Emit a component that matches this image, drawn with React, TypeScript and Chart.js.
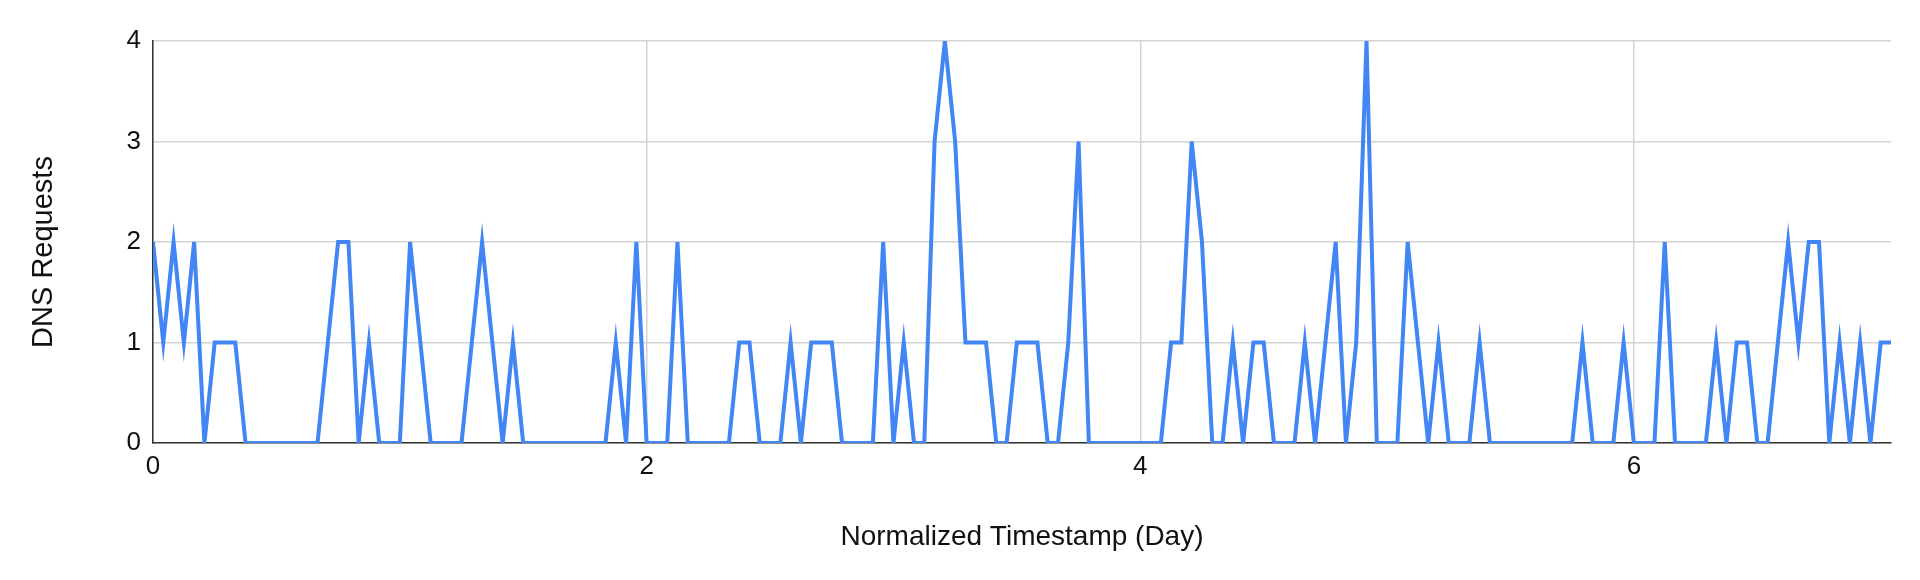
import React, { useEffect, useRef } from "react";
import { Chart, registerables } from "chart.js";

Chart.register(...registerables);

// Hourly DNS request counts (one value per hour, starting at day 0)
const dnsRequests: number[] = [
  2, 1, 2, 1, 2, 0, 1, 1, 1, 0,
  0, 0, 0, 0, 0, 0, 0, 1, 2, 2,
  0, 1, 0, 0, 0, 2, 1, 0, 0, 0,
  0, 1, 2, 1, 0, 1, 0, 0, 0, 0,
  0, 0, 0, 0, 0, 1, 0, 2, 0, 0,
  0, 2, 0, 0, 0, 0, 0, 1, 1, 0,
  0, 0, 1, 0, 1, 1, 1, 0, 0, 0,
  0, 2, 0, 1, 0, 0, 3, 4, 3, 1,
  1, 1, 0, 0, 1, 1, 1, 0, 0, 1,
  3, 0, 0, 0, 0, 0, 0, 0, 0, 1,
  1, 3, 2, 0, 0, 1, 0, 1, 1, 0,
  0, 0, 1, 0, 1, 2, 0, 1, 4, 0,
  0, 0, 2, 1, 0, 1, 0, 0, 0, 1,
  0, 0, 0, 0, 0, 0, 0, 0, 0, 1,
  0, 0, 0, 1, 0, 0, 0, 2, 0, 0,
  0, 0, 1, 0, 1, 1, 0, 0, 1, 2,
  1, 2, 2, 0, 1, 0, 1, 0, 1, 1,
];

const HOURS_PER_DAY = 24;
const timestamps: number[] = dnsRequests.map((_, i) => i / HOURS_PER_DAY);

const xTickValues: number[] = [0, 2, 4, 6];
const yTickValues: number[] = [0, 1, 2, 3, 4];

const xTitle = "Normalized Timestamp (Day)";
const yTitle = "DNS Requests";

const FONT = "'Liberation Sans', Arial, Helvetica, sans-serif";

const yTitlePlugin = {
  id: "yTitle",
  afterDraw(chart: any) {
    const { ctx } = chart;
    ctx.save();
    ctx.translate(44, 252);
    ctx.rotate(-Math.PI / 2);
    ctx.font = `29px ${FONT}`;
    ctx.fillStyle = "#111";
    ctx.textAlign = "center";
    ctx.textBaseline = "middle";
    ctx.fillText(yTitle, 0, 0);
    ctx.restore();
  },
};

export default function App() {
  const canvasRef = useRef<HTMLCanvasElement | null>(null);

  useEffect(() => {
    const canvas = canvasRef.current;
    if (!canvas) return;
    const points = dnsRequests.map((v, i) => ({ x: timestamps[i], y: v }));
    const chart = new Chart(canvas, {
      type: "line",
      data: {
        datasets: [
          {
            label: yTitle,
            data: points,
            borderColor: "#4285F4",
            backgroundColor: "#4285F4",
            borderWidth: 4,
            pointRadius: 0,
            pointHoverRadius: 0,
            tension: 0,
            fill: false,
          },
        ],
      },
      plugins: [yTitlePlugin],
      options: {
        animation: false,
        responsive: true,
        maintainAspectRatio: false,
        devicePixelRatio: 1,
        layout: { padding: { left: 0, top: 41, right: 29, bottom: 0 } },
        plugins: {
          legend: { display: false },
          tooltip: { enabled: false },
        },
        scales: {
          x: {
            type: "linear",
            min: 0,
            max: timestamps[timestamps.length - 1],
            afterBuildTicks: (scale: any) => {
              scale.ticks = xTickValues.map((v) => ({ value: v }));
            },
            afterFit: (scale: any) => {
              scale.height = 137;
            },
            ticks: {
              padding: 8,
              color: "#111",
              font: { family: FONT, size: 26 },
              maxRotation: 0,
            },
            grid: {
              color: "#d3d3d3",
              lineWidth: 1.5,
              drawTicks: false,
            },
            border: { display: true, color: "#333", width: 1.5 },
            title: {
              display: true,
              text: xTitle,
              color: "#111",
              font: { family: FONT, size: 28 },
              padding: { top: 0, bottom: 26 },
            },
          },
          y: {
            type: "linear",
            min: 0,
            max: 4,
            afterBuildTicks: (scale: any) => {
              scale.ticks = yTickValues.map((v) => ({ value: v }));
            },
            afterFit: (scale: any) => {
              scale.width = 153;
            },
            ticks: {
              padding: 12,
              color: "#111",
              font: { family: FONT, size: 26 },
            },
            grid: {
              color: "#d3d3d3",
              lineWidth: 1.5,
              drawTicks: false,
            },
            border: { display: true, color: "#333", width: 1.5 },
            title: { display: false },
          },
        },
      },
    });
    return () => chart.destroy();
  }, []);

  return (
    <div
      style={{
        position: "fixed",
        left: 0,
        top: 0,
        width: 1920,
        height: 580,
        background: "#fff",
      }}
    >
      <canvas ref={canvasRef} />
    </div>
  );
}
